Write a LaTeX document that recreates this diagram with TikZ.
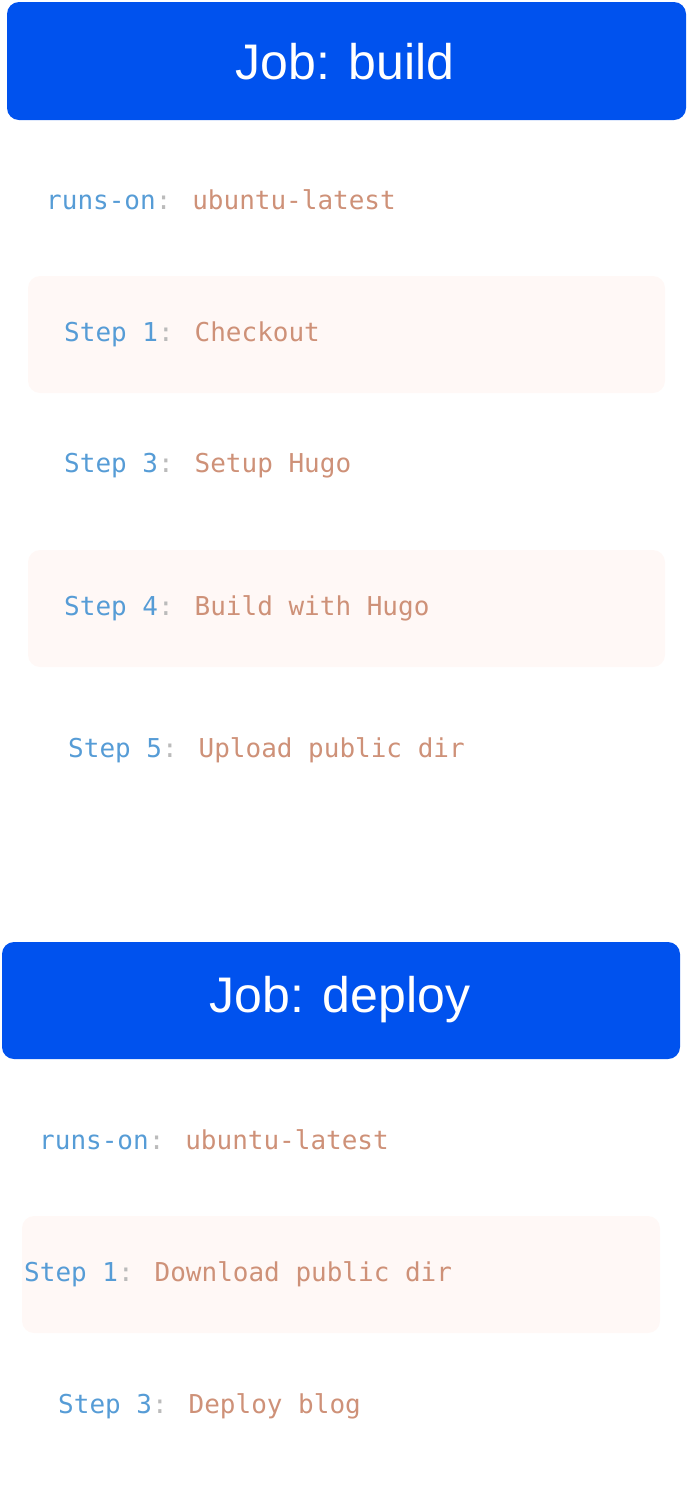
\documentclass[tikz,border=0pt]{standalone}
\usepackage{fontspec}
\setmainfont{Liberation Sans}
\newfontfamily\codefont{DejaVu Sans Mono}
\definecolor{hdr}{HTML}{0052EE}
\definecolor{keyc}{HTML}{569CD6}
\definecolor{valc}{HTML}{CE9178}
\definecolor{colc}{HTML}{BBBBBB}
\definecolor{boxc}{HTML}{FFF8F6}
\tikzset{
  header/.style={fill=hdr, rounded corners=12pt, draw=none},
  htext/.style={text=white, font=\fontsize{50}{56}\selectfont, inner sep=0},
  panel/.style={fill=boxc, rounded corners=12pt, draw=none},
  code/.style={anchor=west, inner sep=0, font=\codefont\fontsize{26}{30}\selectfont}
}
\newcommand{\kv}[2]{\textcolor{keyc}{#1}\textcolor{colc}{:} \textcolor{valc}{#2}}
\begin{document}
\begin{tikzpicture}[x=1pt,y=-1pt]
\useasboundingbox (0,0) rectangle (686,1500);
\fill[header] (7,2) rectangle (686,120);
\node[htext] (h1) at (345,62) {Job: build};
\node[code] (r1) at (46,200) {\kv{runs-on}{ubuntu-latest}};
\fill[panel] (28,276) rectangle (665,393);
\node[code] (s1) at (64,334) {\kv{Step 1}{Checkout}};
\node[code] (s3) at (64,466) {\kv{Step 3}{Setup Hugo}};
\fill[panel] (28,550) rectangle (665,667);
\node[code] (s4) at (64,608) {\kv{Step 4}{Build with Hugo}};
\node[code] (s5) at (68,750) {\kv{Step 5}{Upload public dir}};
\fill[header] (2,942) rectangle (680,1059);
\node[htext] (h2) at (340,1000) {Job: deploy};
\node[code] (r2) at (39,1140) {\kv{runs-on}{ubuntu-latest}};
\fill[panel] (22,1216) rectangle (660,1333);
\node[code] (d1) at (24,1274) {\kv{Step 1}{Download public dir}};
\node[code] (d3) at (58,1406) {\kv{Step 3}{Deploy blog}};
\end{tikzpicture}
\end{document}
